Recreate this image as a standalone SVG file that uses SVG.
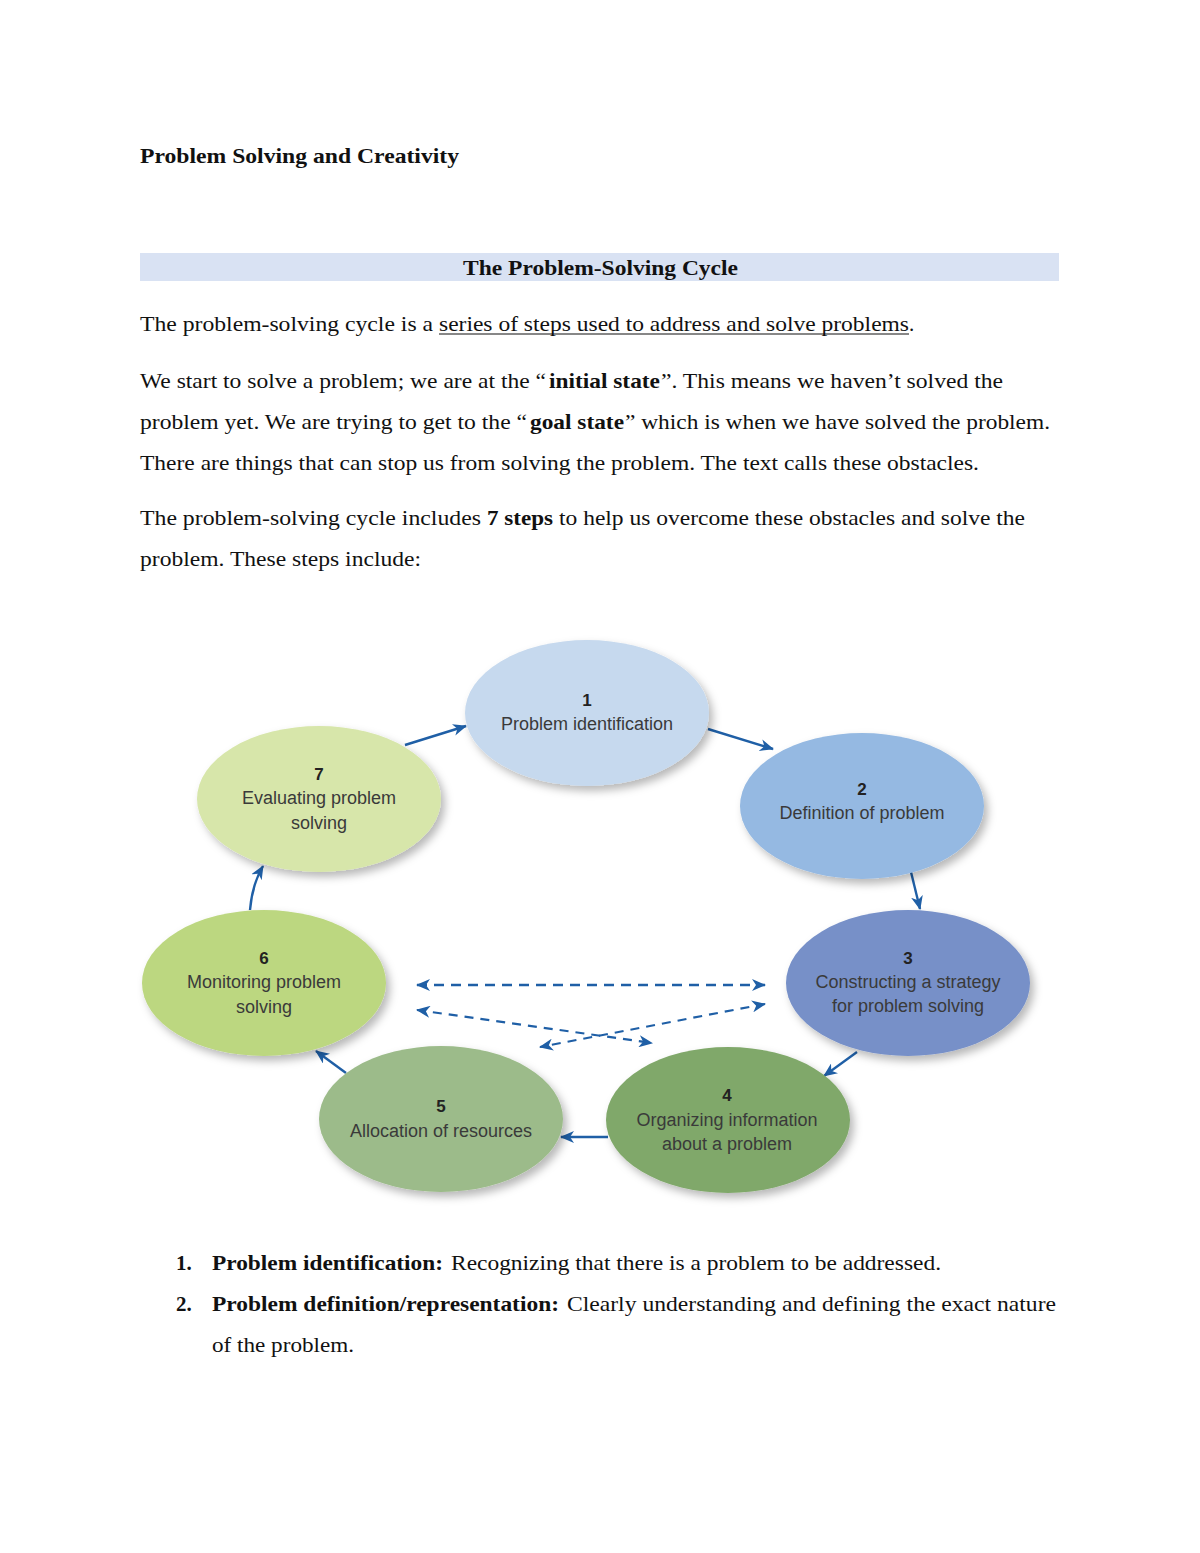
<svg xmlns="http://www.w3.org/2000/svg" width="1200" height="1553" viewBox="0 0 1200 1553">
<style>
.body{font-family:"Liberation Serif","Times New Roman",serif;font-size:21px;fill:#111}
.b{font-weight:bold}
.lbl{font-family:"Liberation Sans",Arial,sans-serif;font-size:18px;fill:#3a3a3a;text-anchor:middle}
.num{font-family:"Liberation Sans",Arial,sans-serif;font-size:17px;font-weight:bold;fill:#222;text-anchor:middle}
.arr{stroke:#1f5fa6;stroke-width:2.4;fill:none}
.dash{stroke:#1f5fa6;stroke-width:2.4;fill:none;stroke-dasharray:10 7}
.dash2{stroke:#1f5fa6;stroke-width:2.2;fill:none;stroke-dasharray:9 7}
</style>
<defs>
<filter id="sh" x="-20%" y="-20%" width="140%" height="150%">
<feDropShadow dx="4" dy="5" stdDeviation="4" flood-color="#000" flood-opacity="0.28"/>
</filter>
<marker id="ah" viewBox="0 0 14 12" refX="13" refY="6" markerWidth="14" markerHeight="12" markerUnits="userSpaceOnUse" orient="auto-start-reverse">
<path d="M0,0 L14,6 L0,12 L4,6 Z" fill="#1f5fa6"/>
</marker>
</defs>
<rect width="1200" height="1553" fill="#fff"/>

<text class="body b" x="140" y="163" textLength="319" lengthAdjust="spacingAndGlyphs">Problem Solving and Creativity</text>
<rect x="140" y="253" width="919" height="28" fill="#d9e2f3"/>
<text class="body b" x="463" y="275" textLength="275" lengthAdjust="spacingAndGlyphs">The Problem-Solving Cycle</text>

<text class="body" x="140" y="331" textLength="293" lengthAdjust="spacingAndGlyphs">The problem-solving cycle is a</text>
<text class="body" x="439" y="331" textLength="470" lengthAdjust="spacingAndGlyphs">series of steps used to address and solve problems</text>
<line x1="439" y1="334" x2="909" y2="334" stroke="#111" stroke-width="1.2"/>
<text class="body" x="909" y="331">.</text>

<text class="body" x="140" y="388" textLength="406" lengthAdjust="spacingAndGlyphs">We start to solve a problem; we are at the “</text>
<text class="body b" x="549" y="388" textLength="111" lengthAdjust="spacingAndGlyphs">initial state</text>
<text class="body" x="661" y="388" textLength="342" lengthAdjust="spacingAndGlyphs">”. This means we haven’t solved the</text>

<text class="body" x="140" y="429" textLength="387" lengthAdjust="spacingAndGlyphs">problem yet. We are trying to get to the “</text>
<text class="body b" x="530" y="429" textLength="94" lengthAdjust="spacingAndGlyphs">goal state</text>
<text class="body" x="625" y="429" textLength="425" lengthAdjust="spacingAndGlyphs">” which is when we have solved the problem.</text>

<text class="body" x="140" y="470" textLength="839" lengthAdjust="spacingAndGlyphs">There are things that can stop us from solving the problem. The text calls these obstacles.</text>

<text class="body" x="140" y="525" textLength="341" lengthAdjust="spacingAndGlyphs">The problem-solving cycle includes</text>
<text class="body b" x="487" y="525" textLength="66" lengthAdjust="spacingAndGlyphs">7 steps</text>
<text class="body" x="559" y="525" textLength="466" lengthAdjust="spacingAndGlyphs">to help us overcome these obstacles and solve the</text>

<text class="body" x="140" y="566" textLength="281" lengthAdjust="spacingAndGlyphs">problem. These steps include:</text>

<g id="connectors">
<path class="arr" d="M405,745 L466,726" marker-end="url(#ah)"/>
<path class="arr" d="M708,729 L773,749" marker-end="url(#ah)"/>
<path class="arr" d="M911,872 L920,909" marker-end="url(#ah)"/>
<path class="arr" d="M857,1052 L824,1076" marker-end="url(#ah)"/>
<path class="arr" d="M608,1137 L561,1137" marker-end="url(#ah)"/>
<path class="arr" d="M346,1073 L316,1051" marker-end="url(#ah)"/>
<path class="arr" d="M250,910 Q252,885 263,866" marker-end="url(#ah)"/>
<path class="dash" d="M417,985 L765,985" marker-start="url(#ah)" marker-end="url(#ah)"/>
<path class="dash2" d="M417,1010 L652,1043" marker-start="url(#ah)" marker-end="url(#ah)"/>
<path class="dash2" d="M765,1004 L540,1047" marker-start="url(#ah)" marker-end="url(#ah)"/>
</g>

<g id="node1">
<ellipse cx="587" cy="713" rx="122" ry="73" fill="#c6d9ee" filter="url(#sh)"/>
<text class="num" x="587" y="706">1</text>
<text class="lbl" x="587" y="730">Problem identification</text>
</g>
<g id="node2">
<ellipse cx="862" cy="806" rx="122" ry="73" fill="#95b9e2" filter="url(#sh)"/>
<text class="num" x="862" y="795">2</text>
<text class="lbl" x="862" y="819">Definition of problem</text>
</g>
<g id="node3">
<ellipse cx="908" cy="983" rx="122" ry="73" fill="#7790c8" filter="url(#sh)"/>
<text class="num" x="908" y="964">3</text>
<text class="lbl" x="908" y="988">Constructing a strategy</text>
<text class="lbl" x="908" y="1012">for problem solving</text>
</g>
<g id="node4">
<ellipse cx="728" cy="1120" rx="122" ry="73" fill="#80a86b" filter="url(#sh)"/>
<text class="num" x="727" y="1101">4</text>
<text class="lbl" x="727" y="1126">Organizing information</text>
<text class="lbl" x="727" y="1150">about a problem</text>
</g>
<g id="node5">
<ellipse cx="441" cy="1119" rx="122" ry="73" fill="#9cbb8a" filter="url(#sh)"/>
<text class="num" x="441" y="1112">5</text>
<text class="lbl" x="441" y="1137">Allocation of resources</text>
</g>
<g id="node6">
<ellipse cx="264" cy="983" rx="122" ry="73" fill="#bcd780" filter="url(#sh)"/>
<text class="num" x="264" y="964">6</text>
<text class="lbl" x="264" y="988">Monitoring problem</text>
<text class="lbl" x="264" y="1013">solving</text>
</g>
<g id="node7">
<ellipse cx="319" cy="799" rx="122" ry="73" fill="#d7e6aa" filter="url(#sh)"/>
<text class="num" x="319" y="780">7</text>
<text class="lbl" x="319" y="804">Evaluating problem</text>
<text class="lbl" x="319" y="829">solving</text>
</g>

<text class="body b" x="176" y="1270">1.</text>
<text class="body b" x="212" y="1270" textLength="231" lengthAdjust="spacingAndGlyphs">Problem identification:</text>
<text class="body" x="451" y="1270" textLength="490" lengthAdjust="spacingAndGlyphs">Recognizing that there is a problem to be addressed.</text>
<text class="body b" x="176" y="1311">2.</text>
<text class="body b" x="212" y="1311" textLength="347" lengthAdjust="spacingAndGlyphs">Problem definition/representation:</text>
<text class="body" x="567" y="1311" textLength="489" lengthAdjust="spacingAndGlyphs">Clearly understanding and defining the exact nature</text>
<text class="body" x="212" y="1352" textLength="142" lengthAdjust="spacingAndGlyphs">of the problem.</text>
</svg>
